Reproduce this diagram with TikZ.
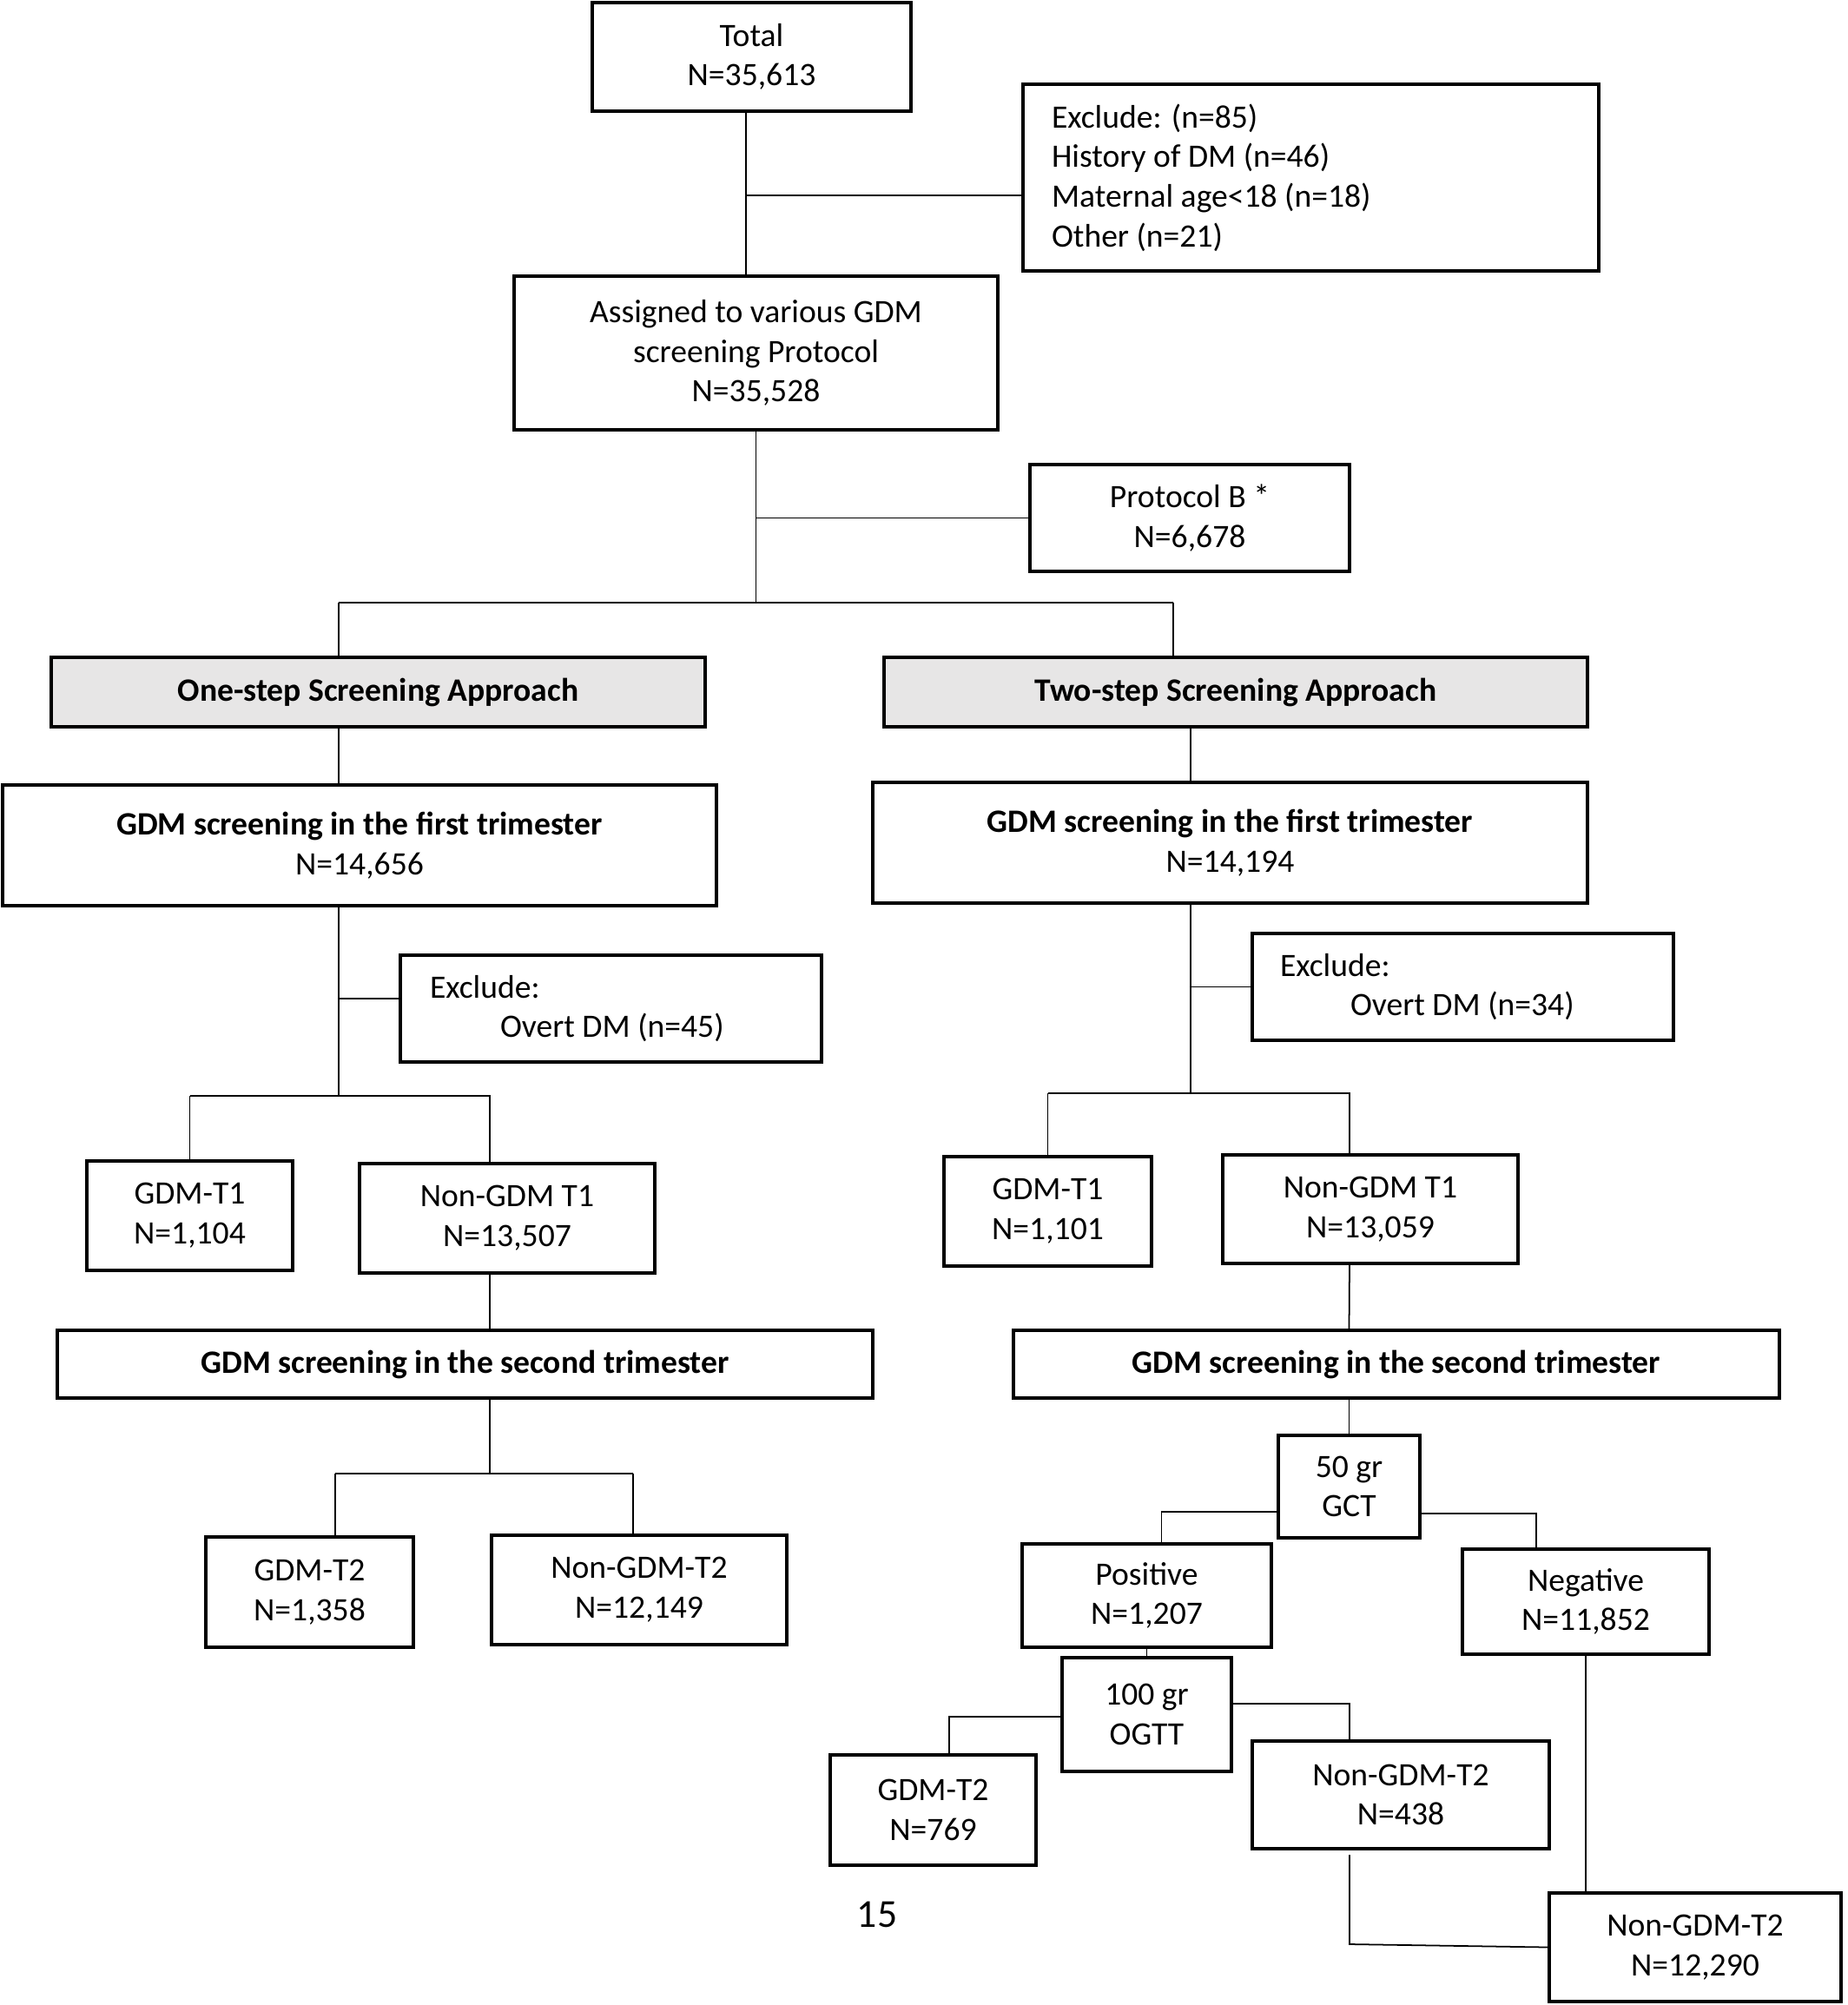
\documentclass[tikz,border=0pt]{standalone}
\usepackage{fontspec}
\setmainfont{Carlito}
\usepackage{tikz}

\definecolor{headgrey}{HTML}{E7E6E6}

\begin{document}
\begin{tikzpicture}[
    every node/.style={font=\fontsize{10.7pt}{13pt}\selectfont},
    box/.style={draw, line width=1.2pt, align=center, inner sep=0pt},
    headbox/.style={box, fill=headgrey, font=\fontsize{10.7pt}{13pt}\selectfont\bfseries},
    notebox/.style={draw, line width=1.2pt, align=flush left, inner ysep=0pt},
    link/.style={line width=0.5pt}]
    \useasboundingbox (0,0) rectangle (21.27,-23.09);

    \node[box, minimum width=3.67cm, minimum height=1.25cm] (total) at (8.655,-0.655) {Total\\N=35,613};
    \node[notebox, inner xsep=0.33cm, text width=5.97cm, minimum height=2.15cm] (excl) at (15.095,-2.045)
      {Exclude: (n=85)\\History of DM (n=46)\\Maternal age<18 (n=18)\\Other (n=21)};
    \node[box, minimum width=5.57cm, minimum height=1.77cm] (assigned) at (8.705,-4.065)
      {Assigned to various GDM\\screening Protocol\\N=35,528};
    \node[box, minimum width=3.68cm, minimum height=1.23cm] (protb) at (13.70,-5.965) {Protocol B *\\N=6,678};

    \node[headbox, minimum width=7.53cm, minimum height=0.80cm] (onestep) at (4.355,-7.97) {One-step Screening Approach};
    \node[headbox, minimum width=8.10cm, minimum height=0.80cm] (twostep) at (14.23,-7.97) {Two-step Screening Approach};

    \node[box, minimum width=8.22cm, minimum height=1.39cm] (firstA) at (4.14,-9.735)
      {\textbf{GDM screening in the first trimester}\\N=14,656};
    \node[box, minimum width=8.23cm, minimum height=1.39cm] (firstB) at (14.165,-9.705)
      {\textbf{GDM screening in the first trimester}\\N=14,194};
    \node[notebox, inner xsep=0.34cm, text width=4.17cm, minimum height=1.23cm] (overtA) at (7.035,-11.615)
      {Exclude:\\\hspace*{0.81cm}Overt DM (n=45)};
    \node[notebox, inner xsep=0.32cm, text width=4.21cm, minimum height=1.23cm] (overtB) at (16.845,-11.365)
      {Exclude:\\\hspace*{0.81cm}Overt DM (n=34)};

    \node[box, minimum width=2.37cm, minimum height=1.26cm] (gdmAone) at (2.185,-14.00) {GDM-T1\\N=1,104};
    \node[box, minimum width=3.40cm, minimum height=1.26cm] (nonAone) at (5.84,-14.03) {Non-GDM T1\\N=13,507};
    \node[box, minimum width=2.39cm, minimum height=1.26cm] (gdmBone) at (12.065,-13.95) {GDM-T1\\N=1,101};
    \node[box, minimum width=3.40cm, minimum height=1.25cm] (nonBone) at (15.78,-13.925) {Non-GDM T1\\N=13,059};

    \node[box, minimum width=9.39cm, minimum height=0.78cm] (secondA) at (5.355,-15.71)
      {\textbf{GDM screening in the second trimester}};
    \node[box, minimum width=8.82cm, minimum height=0.78cm] (secondB) at (16.08,-15.71)
      {\textbf{GDM screening in the second trimester}};

    \node[box, minimum width=2.39cm, minimum height=1.27cm] (gdmAtwo) at (3.565,-18.335) {GDM-T2\\N=1,358};
    \node[box, minimum width=3.40cm, minimum height=1.26cm] (nonAtwo) at (7.36,-18.31) {Non-GDM-T2\\N=12,149};

    \node[box, minimum width=1.63cm, minimum height=1.18cm] (gct) at (15.535,-17.12) {50 gr\\GCT};
    \node[box, minimum width=2.87cm, minimum height=1.19cm] (pos) at (13.205,-18.375) {Positive\\N=1,207};
    \node[box, minimum width=2.84cm, minimum height=1.21cm] (neg) at (18.26,-18.445) {Negative\\N=11,852};
    \node[box, minimum width=1.95cm, minimum height=1.31cm] (ogtt) at (13.205,-19.745) {100 gr\\OGTT};
    \node[box, minimum width=2.37cm, minimum height=1.27cm] (gdmBtwo) at (10.745,-20.845) {GDM-T2\\N=769};
    \node[box, minimum width=3.42cm, minimum height=1.24cm] (nonBtwo) at (16.13,-20.67) {Non-GDM-T2\\N=438};
    \node[box, minimum width=3.36cm, minimum height=1.25cm] (nonBall) at (19.52,-22.425) {Non-GDM-T2\\N=12,290};

    \node (page) at (10.10,-22.05) {\fontsize{13pt}{15pt}\selectfont 15};

    \coordinate (stem) at (8.59,-2.25);
    \coordinate (splitL) at (3.90,-6.94);
    \coordinate (splitR) at (13.51,-6.94);
    \coordinate (armA) at (3.90,-12.62);
    \coordinate (armB) at (13.71,-12.59);
    \coordinate (armAtwo) at (5.64,-16.97);
    \coordinate (bend) at (15.54,-22.39);

    \draw[link] (stem |- total.south) -- (stem |- assigned.north);
    \draw[link] (stem) -- (stem -| excl.west);
    \draw[link] (assigned.south) -- (assigned.south |- splitL);
    \draw[link] (protb.west) -- ++(-3.13,0);
    \draw[link] (splitL) -- (splitR);
    \draw[link] (splitL) -- (splitL |- onestep.north);
    \draw[link] (splitR) -- (splitR |- twostep.north);

    \draw[link] (splitL |- onestep.south) -- (splitL |- firstA.north);
    \draw[link] (armB |- twostep.south) -- (armB |- firstB.north);
    \draw[link] (armA |- firstA.south) -- (armA);
    \draw[link] (armB |- firstB.south) -- (armB);
    \draw[link] (3.90,-11.50) -- (overtA.west |- 0,-11.50);
    \draw[link] (overtB.west) -- (overtB.west -| armB);
    \draw[link] (gdmAone.north |- armA) -- (5.64,-12.62) -- (5.64,-13.40);
    \draw[link] (gdmAone.north |- armA) -- (gdmAone.north);
    \draw[link] (gdmBone.north |- armB) -- (15.54,-12.59) -- (15.54,-13.30);
    \draw[link] (gdmBone.north |- armB) -- (gdmBone.north);

    \draw[link] (armAtwo |- nonAone.south) -- (armAtwo |- secondA.north);
    \draw[link] (15.54,-14.55) -- (secondB.north -| gct.north);
    \draw[link] (armAtwo |- secondA.south) -- (armAtwo);
    \draw[link] (3.86,-16.97) -- (7.29,-16.97);
    \draw[link] (3.86,-16.97) -- (3.86,-17.70);
    \draw[link] (7.29,-16.97) -- (7.29,-17.68);

    \draw[link] (secondB.south -| gct.north) -- (gct.north);
    \draw[link] (gct.west |- 0,-17.41) -- (13.375,-17.41) -- (13.375,-17.78);
    \draw[link] (gct.east |- 0,-17.43) -- (17.69,-17.43) -- (17.69,-17.84);
    \draw[link] (pos.south) -- (ogtt.north);
    \draw[link] (ogtt.west |- 0,-19.77) -- (10.93,-19.77) -- (10.93,-20.21);
    \draw[link] (ogtt.east |- 0,-19.62) -- (15.54,-19.62) -- (15.54,-20.05);
    \draw[link] (15.54,-21.36) -- (bend) -- (nonBall.west);
    \draw[link] (neg.south) -- (neg.south |- nonBall.north);
\end{tikzpicture}
\end{document}
